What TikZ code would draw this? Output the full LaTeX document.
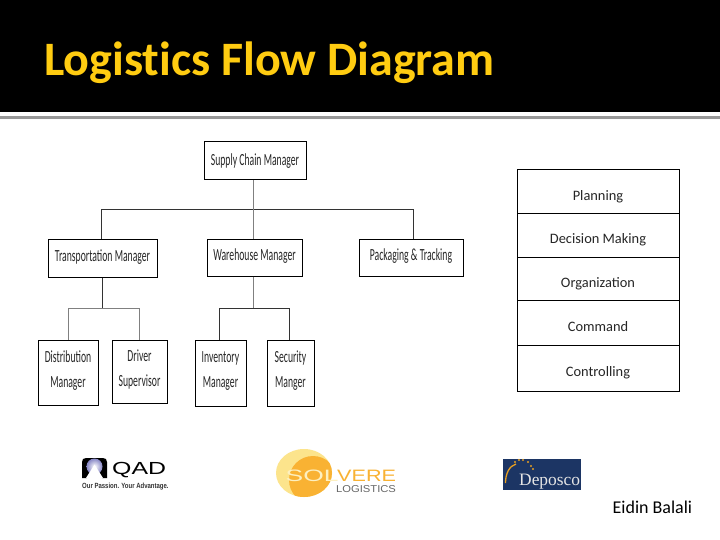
\documentclass[tikz,border=0pt]{standalone}
\usepackage{fontspec}
\setmainfont{Carlito}
\newfontfamily\titlef[Ligatures=NoCommon,Renderer=Basic]{Carlito}
\newfontfamily\narrowf[FakeStretch=0.57]{Carlito}
\newfontfamily\tagf[FakeStretch=0.8]{Liberation Sans}
\newfontfamily\depf{Liberation Serif}
\newfontfamily\qadf[FakeStretch=1.42]{Liberation Sans}
\newfontfamily\solf[FakeStretch=1.6]{Liberation Sans}
\newfontfamily\verf[FakeStretch=1.31]{Liberation Sans}
\newfontfamily\logf[FakeStretch=1.12]{Liberation Sans}
\usetikzlibrary{shadings}
\definecolor{gold}{HTML}{FFCC11}
\definecolor{navy}{HTML}{1C3564}
\definecolor{sunA}{HTML}{FCE48C}
\definecolor{sunB}{HTML}{F9B233}
\definecolor{sunT}{HTML}{FDF0C0}
\definecolor{amber}{HTML}{E8A020}
\tikzset{
  x=1pt,y=-1pt,
  org/.style={draw=black,line width=1pt,fill=white,inner sep=0pt,font=\narrowf\fontsize{17}{25}\selectfont,text=black!85},
  wire/.style={draw=black!80,line width=1pt},
  lightwire/.style={draw=black!50,line width=1pt},
  rowtext/.style={inner sep=0pt,font=\fontsize{14.4}{16}\selectfont,text=black!85},
  rowline/.style={draw=black,line width=0.8pt},
  logotext/.style={anchor=base west,inner sep=0pt},
}
\newcommand{\orgbox}[7][6pt]{\node[org,minimum width=#5*1pt-#3*1pt,minimum height=#6*1pt-#4*1pt] (#2) at ({(#3+#5)/2},{(#4+#6)/2}) {\raisebox{0pt}[\height][\dimexpr\depth+#1\relax]{\begin{tabular}{@{}c@{}}#7\end{tabular}}};}
\begin{document}
\begin{tikzpicture}
\useasboundingbox (0,0) rectangle (720,540);
\fill[white] (0,0) rectangle (720,540);
\fill[black] (0,0) rectangle (720,112.5);
\fill[black!40] (0,116) rectangle (720,119);
\node[logotext,text=gold,font=\titlef\bfseries\fontsize{48}{48}\selectfont] (title) at (44,76) {Logistics Flow Diagram};
% org chart
\coordinate (bus) at (253,210);
\coordinate (busL) at (102,308);
\coordinate (busM) at (253,308);
\orgbox[0pt]{sup}{204}{142}{306}{180}{Supply Chain Manager}
\orgbox[4pt]{tra}{48}{239}{157}{277}{Transportation Manager}
\orgbox[4pt]{war}{207}{239}{302}{276}{Warehouse Manager}
\orgbox[4pt]{pac}{359}{239}{463}{276}{Packaging \& Tracking}
\orgbox{dis}{38}{340}{98}{405}{Distribution\\Manager}
\orgbox{dri}{112}{340}{167}{403}{Driver\\Supervisor}
\orgbox{inv}{195}{340}{246}{406}{Inventory\\Manager}
\orgbox{sec}{267}{340}{314}{406}{Security\\Manger}
\coordinate (c1) at (101.5,210);
\coordinate (c3) at (413.5,210);
\coordinate (d1) at (68.5,308);
\coordinate (d2) at (139.5,308);
\coordinate (e1) at (219.5,308);
\coordinate (e2) at (289.5,308);
\draw[wire] (c1 |- tra.north) -- (c1) -- (c3) -- (c3 |- pac.north);
\draw[lightwire] (bus |- sup.south) -- (bus |- war.north);
\draw[wire] (busL |- tra.south) -- (busL);
\draw[lightwire] (d1 |- dis.north) -- (d1) -- (d2) -- (d2 |- dri.north);
\draw[wire] (e1 |- inv.north) -- (e1) -- (e2) -- (e2 |- sec.north);
\draw[lightwire] (busM |- war.south) -- (busM);
% table
\draw[rowline] (517,169) rectangle (679,391);
\foreach \yy in {213,257,300,345} \draw[rowline] (517,\yy) -- (679,\yy);
\node[rowtext] (r1) at (598,196.5) {Planning};
\node[rowtext] (r2) at (598,240) {Decision Making};
\node[rowtext] (r3) at (598,283.5) {Organization};
\node[rowtext] (r4) at (598,326.5) {Command};
\node[rowtext] (r5) at (598,372.5) {Controlling};
% QAD logo
\fill[black] (82,478) -- (82,462) .. controls (82,459.5) and (83.5,458) .. (86,458) -- (103,458) .. controls (105.5,458) and (107,459.5) .. (107,462) -- (107,478) -- (102,478) -- (94.5,468) -- (87,478) -- cycle;
\shade[inner color=white,outer color=blue!35!gray!70] (94.5,466.5) circle (8);
\fill[white] (94.5,464.5) -- (103,478) -- (86,478) -- cycle;
\node[logotext,font=\qadf\fontsize{17.5}{18}\selectfont,text=black] (qad) at (112,474.5) {QAD};
\node[logotext,font=\tagf\bfseries\fontsize{7.5}{8}\selectfont,text=black!80] (tag) at (82,488.5) {Our Passion. Your Advantage.};
% Solvere logo
\fill[sunA] (304,473) ellipse (28 and 24);
\begin{scope}
\clip (304,473) ellipse (28 and 24);
\fill[sunB] (313,480) circle (24);
\end{scope}
\node[logotext,font=\solf\fontsize{16.5}{17}\selectfont,text=sunT] (sol) at (285.5,481) {SOL};
\node[logotext,font=\verf\fontsize{16.5}{17}\selectfont,text=sunB] (ver) at (337,481) {VERE};
\node[logotext,font=\logf\fontsize{10}{10}\selectfont,text=black!60] (log) at (336,492) {LOGISTICS};
% Deposco logo
\fill[navy] (503,459) rectangle (581,490);
\node[logotext,font=\depf\fontsize{17.4}{18}\selectfont,text=black!10] (dep) at (519,485) {Deposco};
\draw[amber,line width=1.3pt] (505.5,483) .. controls (505.5,474) and (509,466) .. (516,464);
\foreach \px/\py in {515/462,519/460,523/460,528/462,531/466,533/469} \fill[amber] (\px,\py) circle (1.1);
\node[logotext,font=\fontsize{18}{18}\selectfont,text=black] (auth) at (612.5,513) {Eidin Balali};
\end{tikzpicture}
\end{document}
